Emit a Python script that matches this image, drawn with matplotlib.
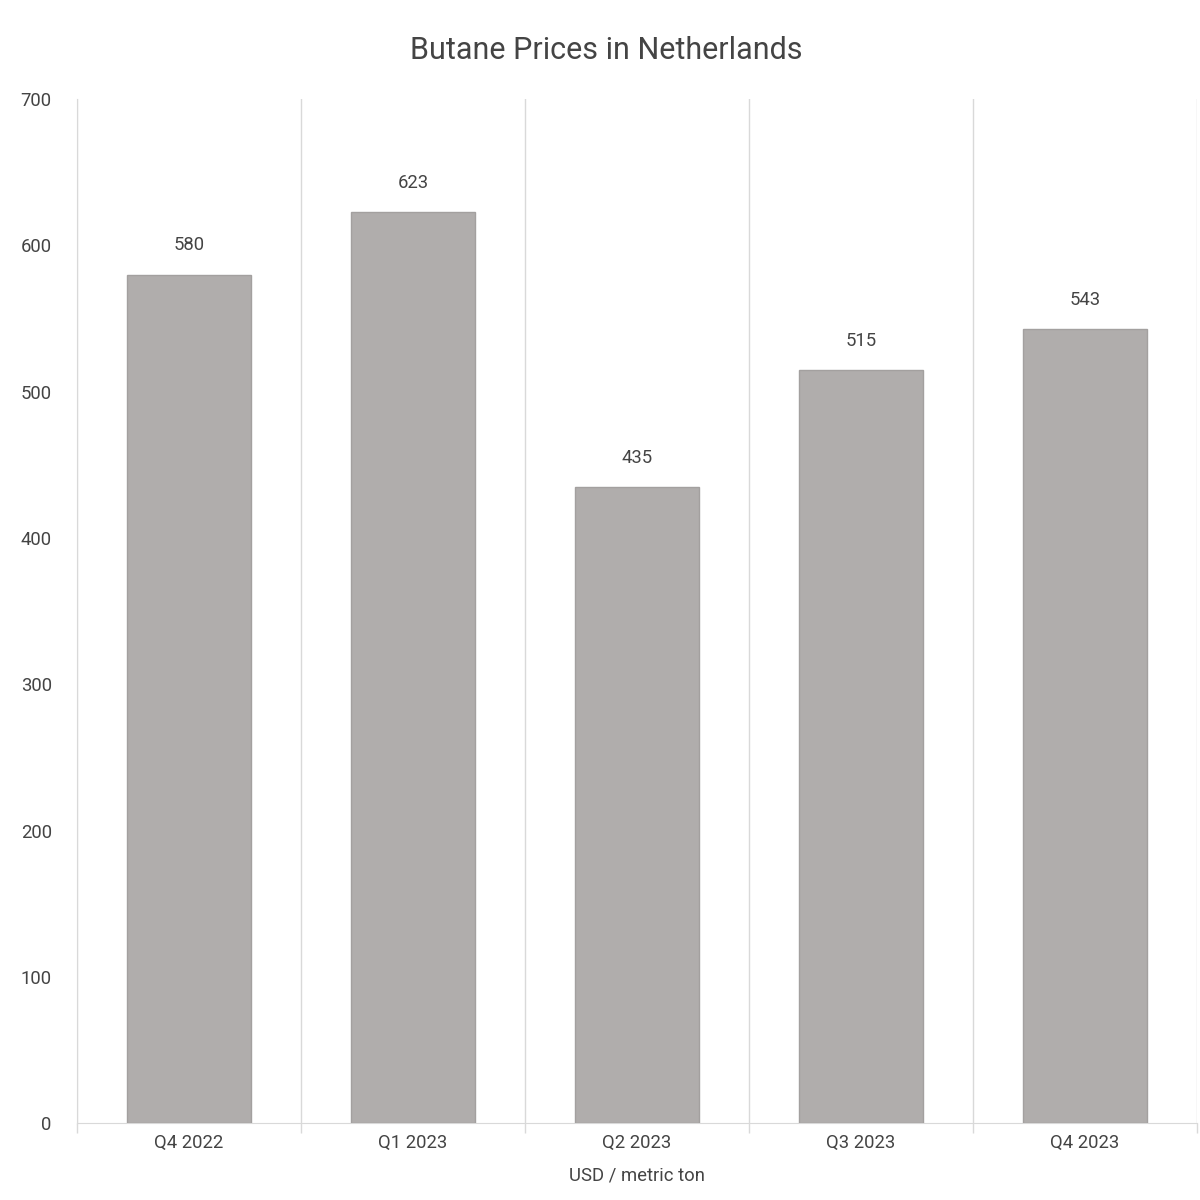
import numpy as np
import matplotlib
matplotlib.use('Agg')
from matplotlib import pyplot as plt

quarters = ['Q4 2022', 'Q1 2023', 'Q2 2023', 'Q3 2023', 'Q4 2023']
prices = [580, 623, 435, 515, 543]
yticks = [0, 100, 200, 300, 400, 500, 600, 700]

plt.rcParams['font.family'] = ['Roboto', 'DejaVu Sans']
txt = '#444444'
grid = '#d9d9d9'
fs = 13.3

fig = plt.figure(figsize=(12, 12), dpi=100)
ax = fig.add_axes([0.064, 0.064, 0.9335, 0.8535])

x = np.arange(len(quarters))
bars = ax.bar(x, prices, width=0.555, color='#b0adac', edgecolor='#a3a09f', linewidth=1, zorder=3)

for xi, v in zip(x, prices):
    ax.annotate(str(v), (xi, v), xytext=(0, 14.5), textcoords='offset points',
                ha='center', va='bottom', fontsize=fs, color=txt)

ax.set_xlim(-0.5, len(quarters) - 0.5)
ax.set_ylim(0, 700)
ax.set_xticks(x)
ax.set_xticklabels(quarters, fontsize=fs, color=txt)
ax.set_yticks(yticks)
ax.set_yticklabels([str(t) for t in yticks], fontsize=fs, color=txt)
ax.set_xticks(np.arange(len(quarters) + 1) - 0.5, minor=True)
ax.tick_params(axis='x', which='major', length=0, pad=8)
ax.tick_params(axis='x', which='minor', length=7, color=grid, width=1)
ax.tick_params(axis='y', length=0, pad=18)
ax.grid(axis='x', which='minor', color=grid, linewidth=1, zorder=0)

for s in ['top', 'right']:
    ax.spines[s].set_visible(False)
ax.spines['left'].set_color(grid)
ax.spines['bottom'].set_color(grid)

ax.set_xlabel('USD / metric ton', fontsize=fs, color=txt, labelpad=10)
fig.suptitle('Butane Prices in Netherlands', x=0.505, y=0.97, fontsize=22, color=txt)

fig.savefig('out.png', dpi=100)
